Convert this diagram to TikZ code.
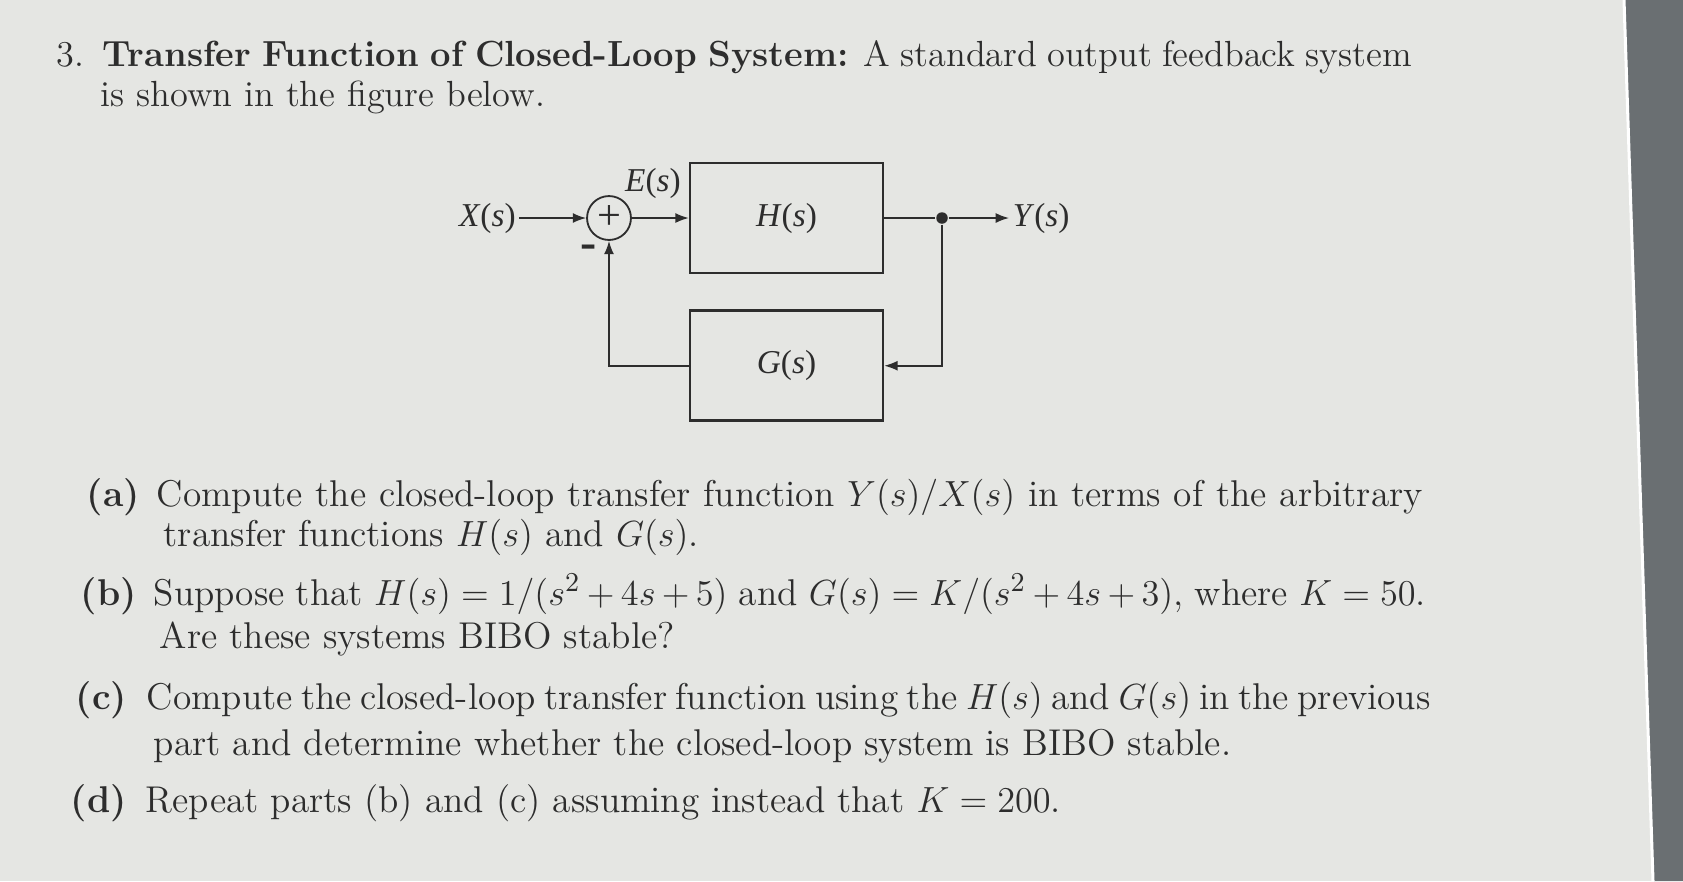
\documentclass[tikz,border=0pt]{standalone}
\usepackage{amsmath}
\usepackage{fontspec}
\usepackage{tikz}
\usetikzlibrary{arrows.meta,positioning}
\newfontfamily\figfont{Liberation Serif}
\definecolor{paper}{RGB}{229,230,227}
\definecolor{ink}{RGB}{45,45,45}
\definecolor{bezel}{RGB}{106,111,114}
\tikzstyle{int}=[draw, line width=0.85pt, minimum width=63.7pt, minimum height=36.3pt, font=\figfont\fontsize{11}{13}\selectfont]
\tikzstyle{sum}=[draw, circle, line width=0.6pt, minimum size=14.5pt, inner sep=0pt, font=\figfont\fontsize{14}{14}\selectfont]
\tikzstyle{sig}=[inner sep=1pt, font=\figfont\fontsize{11}{13}\selectfont]
\tikzstyle{txt}=[anchor=base west, inner sep=0pt, font=\fontsize{12}{14.5}\selectfont]
\tikzstyle{part}=[txt, font=\fontsize{12.3}{14.8}\selectfont]
\newcommand{\sig}[1]{\textit{#1}(\textit{s})}
\newcommand{\jline}[2]{\makebox[#1][s]{#2}}

\begin{document}
\begin{tikzpicture}[x=0.33pt,y=-0.33pt,>={Latex[length=4.4pt,width=3.3pt]},ink,line width=0.5pt]
    \useasboundingbox (0,0) rectangle (1683,881);
    \fill[paper] (0,0) rectangle (1683,881);
    \fill[bezel] (1625,0) -- (1683,0) -- (1683,881) -- (1654,881) -- cycle;
    \draw[white, line width=1pt] (1624,0) -- (1653,881);

    \node[txt] (num) at (56,66) {3.};
    \node[txt] (l1) at (102,66) {\jline{432pt}{\textbf{Transfer Function of Closed-Loop System:} A standard output feedback system}};
    \node[txt] (l2) at (100,106) {is shown in the figure below.};

    \node [int] (h) at (786.5,218) {\sig{H}};
    \node [int, below=11.6pt of h] (g) {\sig{G}};
    \node [sum] (sum) at (609,218) {+};
    \node [sig, left=22pt of sum] (x) {\sig{X}};
    \node [sig] (e) at (653,183) {\sig{E}};
    \node [sig, font=\figfont\bfseries\fontsize{16}{16}\selectfont] (minus) at (589,252) {-};
    \node [circle, fill=ink, inner sep=0pt, minimum size=3.8pt] (dot) at (942,218) {};
    \node [sig, anchor=west] (y) at (1009,218) {\sig{Y}};
    \draw[->] (x) -- (sum);
    \draw[->] (sum) -- (h);
    \draw (h) -- (dot);
    \draw[->] (dot) -- (y);
    \draw[->] (dot) |- (g);
    \draw[->] (g) -| (sum);

    \node[part] (pa) at (86,506) {\textbf{(a)}};
    \node[part] (a1) at (156,506) {\jline{417.8pt}{Compute the closed-loop transfer function $Y(s)/X(s)$ in terms of the arbitrary}};
    \node[part] (a2) at (163,546) {transfer functions $H(s)$ and $G(s)$.};
    \node[part] (pb) at (80,605) {\textbf{(b)}};
    \node[part] (b1) at (153,605) {\jline{419.8pt}{Suppose that $H(s)=1/(s^2+4s+5)$ and $G(s)=K/(s^2+4s+3)$, where $K=50$.}};
    \node[part] (b2) at (159,648) {Are these systems BIBO stable?};
    \node[part] (pc) at (75,709) {\textbf{(c)}};
    \node[part] (c1) at (146,709) {\jline{423.7pt}{Compute the closed-loop transfer function using the $H(s)$ and $G(s)$ in the previous}};
    \node[part] (c2) at (153,755) {part and determine whether the closed-loop system is BIBO stable.};
    \node[part] (pd) at (70,812) {\textbf{(d)}};
    \node[part] (d1) at (145,812) {Repeat parts (b) and (c) assuming instead that $K=200$.};
\end{tikzpicture}
\end{document}
